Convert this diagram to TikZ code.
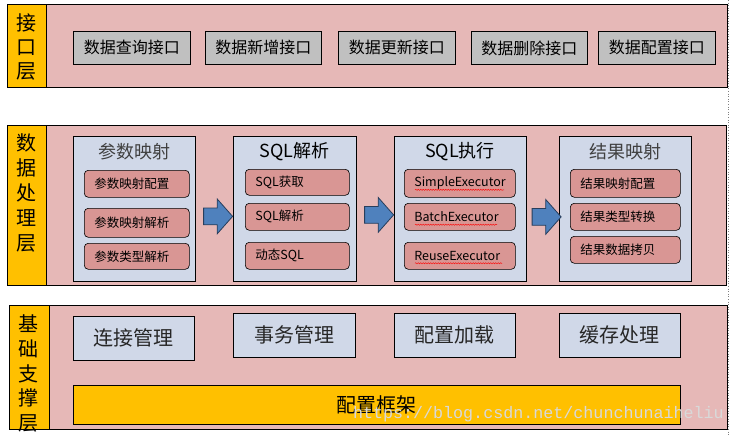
\documentclass[tikz,border=0pt]{standalone}
\usepackage{fontspec}
\setmainfont{Noto Sans CJK SC}
\newfontfamily\wmfont{Liberation Mono}
\usetikzlibrary{shapes.arrows,calc,decorations.pathmorphing}

\definecolor{layerpink}{RGB}{230,184,183}
\definecolor{labelyellow}{RGB}{255,192,0}
\definecolor{apigray}{RGB}{192,192,192}
\definecolor{groupblue}{RGB}{208,216,232}
\definecolor{itemred}{RGB}{217,150,148}
\definecolor{flowblue}{RGB}{79,129,189}
\definecolor{flowline}{RGB}{40,62,92}
\definecolor{titlegray}{RGB}{64,64,64}

\tikzset{
  layer/.style={draw, line width=0.8pt, fill=layerpink, anchor=north west, inner sep=0pt},
  labelbox/.style={draw, line width=0.8pt, fill=labelyellow, anchor=north west, inner sep=0pt},
  labeltext/.style={align=center, inner sep=0pt, font=\fontsize{20}{#1}\selectfont},
  api/.style={draw, line width=0.8pt, fill=apigray, anchor=north west, inner sep=0pt,
    minimum height=33pt, font=\fontsize{16}{16}\selectfont},
  group/.style={draw, line width=0.8pt, fill=groupblue, anchor=north west, inner sep=0pt,
    minimum height=145pt},
  grouptitle/.style={inner sep=0pt, font=\fontsize{18}{18}\selectfont},
  item/.style={draw, line width=0.6pt, rounded corners=4pt, fill=itemred, anchor=north west,
    inner xsep=10pt, inner ysep=0pt, text width=#1, align=left, minimum height=27pt,
    font=\fontsize{12.5}{12.5}\selectfont},
  flow/.style={single arrow, draw=flowline, line width=0.8pt, fill=flowblue, inner sep=0pt,
    minimum height=29pt, single arrow head extend=9pt, single arrow tip angle=97},
  support/.style={draw, line width=0.8pt, fill=groupblue, anchor=north west, inner sep=0pt,
    minimum height=44pt, text=black!85, font=\fontsize{20}{20}\selectfont},
  typo/.style={red, line width=0.4pt, decorate,
    decoration={snake, amplitude=0.6pt, segment length=2.5pt}}
}

\begin{document}
\begin{tikzpicture}[x=1pt, y=-1pt]
    \useasboundingbox (0,0) rectangle (734,436);
    % 接口层
    \node[layer, minimum width=720pt, minimum height=83pt] (L1) at (7,4) {};
    \node[labelbox, minimum width=39pt, minimum height=83pt] (L1lab) at (7,4) {};
    \node[labeltext=24pt] (L1txt) at (26.5,47) {接\\口\\层};
    \node[api, minimum width=117pt] (q1) at (73,31) {数据查询接口};
    \node[api, minimum width=116pt] (q2) at (205,31) {数据新增接口};
    \node[api, minimum width=117pt] (q3) at (338,31) {数据更新接口};
    \node[api, minimum width=116pt] (q4) at (471,31) {数据删除接口};
    \node[api, minimum width=117pt] (q5) at (598,31) {数据配置接口};

    % 数据处理层
    \node[layer, minimum width=719pt, minimum height=160pt] (L2) at (7,125) {};
    \node[labelbox, minimum width=39pt, minimum height=160pt] (L2lab) at (7,125) {};
    \node[labeltext=25pt] (L2txt) at (26.5,193) {数\\据\\处\\理\\层};
    % 参数映射
    \node[group, minimum width=122pt] (g1) at (73,136) {};
    \node[grouptitle, text=titlegray] (g1t) at (134,152) {参数映射};
    \node[item=85pt] (p1) at (84,170) {参数映射配置};
    \node[item=85pt, minimum height=29pt] (p2) at (84,208) {参数映射解析};
    \node[item=85pt, minimum height=26pt] (p3) at (84,243) {参数类型解析};
    % SQL解析
    \node[group, minimum width=123pt] (g2) at (233,136) {};
    \node[grouptitle] (g2t) at (294.5,152) {SQL解析};
    \node[item=84pt, minimum height=26pt] (s1) at (245,169) {SQL获取};
    \node[item=84pt] (s2) at (245,203) {SQL解析};
    \node[item=84pt] (s3) at (245,242) {动态SQL};
    % SQL执行
    \node[group, minimum width=132pt] (g3) at (394,136) {};
    \node[grouptitle] (g3t) at (460,152) {SQL执行};
    \node[item=91pt, minimum height=28pt] (e1) at (404,169) {SimpleExecutor};
    \node[item=91pt] (e2) at (404,203) {BatchExecutor};
    \node[item=91pt] (e3) at (404,242) {ReuseExecutor};
    \draw[typo] ($(e1.base west)+(11,3)$) -- ++(89,0);
    \draw[typo] ($(e2.base west)+(11,3)$) -- ++(82,0);
    \draw[typo] ($(e3.base west)+(11,3)$) -- ++(87,0);
    % 结果映射
    \node[group, minimum width=132pt] (g4) at (559,136) {};
    \node[grouptitle, text=titlegray] (g4t) at (625,152) {结果映射};
    \node[item=90pt, minimum height=28pt] (r1) at (570,169) {结果映射配置};
    \node[item=90pt] (r2) at (570,203) {结果类型转换};
    \node[item=90pt] (r3) at (570,236) {结果数据拷贝};
    % 箭头
    \node[flow] (a1) at ($(g1.east)!0.5!(g2.west)+(0,7.5)$) {\rule{0pt}{16pt}};
    \node[flow] (a2) at ($(g2.east)!0.5!(g3.west)+(0,6)$) {\rule{0pt}{16pt}};
    \node[flow] (a3) at ($(g3.east)!0.5!(g4.west)+(0,8)$) {\rule{0pt}{16pt}};

    % 基础支撑层
    \node[layer, minimum width=718pt, minimum height=124pt] (L3) at (9,305) {};
    \node[labelbox, minimum width=40pt, minimum height=124pt] (L3lab) at (9,305) {};
    \node[labeltext=24.7pt] (L3txt) at (28.5,373.5) {基\\础\\支\\撑\\层};
    \node[support, minimum width=121pt] (b1) at (73,316) {\raisebox{3pt}{连接管理}};
    \node[support, minimum width=122pt] (b2) at (233,313) {\raisebox{3pt}{事务管理}};
    \node[support, minimum width=121pt] (b3) at (394,313) {\raisebox{3pt}{配置加载}};
    \node[support, minimum width=121pt] (b4) at (559,313) {\raisebox{3pt}{缓存处理}};
    \node[labelbox, minimum width=607pt, minimum height=39pt,
          font=\fontsize{20}{20}\selectfont] (frame) at (73,385) {配置框架};

    % 水印和页边线
    \node[anchor=east, inner sep=0pt, text=black!15, font=\wmfont\fontsize{16.7}{16.7}\selectfont]
        (wm) at (724,414) {https://blog.csdn.net/chunchunaiheliu};
    \coordinate (m1) at (728,0);
    \coordinate (m2) at (728,436);
    \draw[gray, dotted, line width=0.6pt] (m1) -- (m2);
\end{tikzpicture}
\end{document}
